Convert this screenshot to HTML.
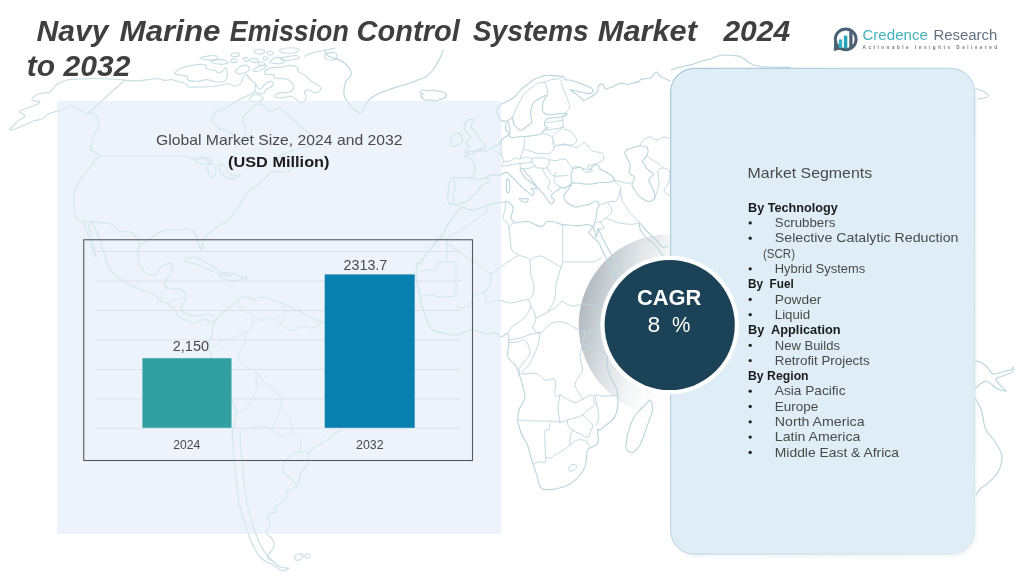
<!DOCTYPE html>
<html lang="en">
<head>
<meta charset="utf-8">
<title>Navy Marine Emission Control Systems Market 2024 to 2032</title>
<style>
html,body{margin:0;padding:0;background:#fff;}
body{width:1024px;height:576px;overflow:hidden;position:relative;font-family:"Liberation Sans",sans-serif;}
svg{position:absolute;left:0;top:0;display:block;}
text{font-family:"Liberation Sans",sans-serif;}
.ttl{font-weight:bold;font-style:italic;font-size:29px;fill:#3f3f3f;}
.reg{fill:#4a4a4a;}
.bold{font-weight:bold;fill:#1c1c1c;}
</style>
</head>
<body>
<svg width="1024" height="576" viewBox="0 0 1024 576">
<defs>
  <linearGradient id="ringg" gradientUnits="userSpaceOnUse" x1="579" y1="314" x2="668" y2="338">
    <stop offset="0" stop-color="#b2bac0"/>
    <stop offset="0.24" stop-color="#cbd2d6"/>
    <stop offset="0.47" stop-color="#e1e5e8"/>
    <stop offset="0.7" stop-color="#f1f3f4"/>
    <stop offset="0.92" stop-color="#fdfdfd"/>
  </linearGradient>
  <filter id="sh" x="-10%" y="-10%" width="120%" height="120%">
    <feGaussianBlur stdDeviation="2"/>
  </filter>
  <linearGradient id="pbord" x1="0" y1="0" x2="1" y2="1">
    <stop offset="0" stop-color="#a9c8d8"/>
    <stop offset="0.5" stop-color="#c4dae6"/>
    <stop offset="1" stop-color="#dde9ef"/>
  </linearGradient>
</defs>

<!-- grey ring behind right panel -->
<circle cx="669.7" cy="325" r="91" fill="url(#ringg)"/>
<!-- MAP-BACK -->
<g id="map" fill="none" stroke-linejoin="round" stroke-linecap="round">
<path stroke="#c8dee4" stroke-width="1.15" d="M125.0 80.0C122.2 79.8 115.5 79.3 110.0 79.0C104.5 78.7 100.1 78.5 95.0 78.5C89.9 78.5 87.1 78.7 82.0 79.0C76.9 79.3 71.8 78.9 67.0 80.0C62.2 81.1 59.1 82.8 56.0 85.0C52.9 87.2 52.4 90.5 50.0 92.0C47.6 93.5 45.6 92.5 43.0 93.0C40.4 93.5 38.0 93.7 36.0 95.0C34.0 96.3 31.3 98.7 32.0 100.0C32.7 101.3 39.8 100.9 40.0 102.0C40.2 103.1 36.7 104.3 33.0 106.0C29.3 107.7 21.5 109.2 20.0 111.0C18.5 112.8 25.2 114.3 25.0 116.0C24.8 117.7 21.8 117.4 19.0 120.0C16.2 122.6 8.9 129.1 10.0 130.0C11.1 130.9 20.8 126.7 25.0 125.0C29.2 123.3 29.9 122.1 33.0 121.0C36.1 119.9 39.2 120.3 42.0 119.0C44.8 117.7 45.8 115.3 48.0 114.0C50.2 112.7 51.4 112.7 54.0 112.0C56.6 111.3 59.1 111.1 62.0 110.0C64.9 108.9 67.6 106.5 70.0 106.0C72.4 105.5 72.8 106.1 75.0 107.0C77.2 107.9 79.8 109.7 82.0 111.0C84.2 112.3 85.2 113.6 87.0 114.0C88.8 114.4 90.3 112.8 92.0 113.0C93.7 113.2 94.9 113.5 96.0 115.0C97.1 116.5 97.5 118.8 98.0 121.0C98.5 123.2 99.4 125.2 99.0 127.0C98.6 128.8 96.9 129.5 96.0 131.0C95.1 132.5 94.7 133.0 94.0 135.0C93.3 137.0 92.5 139.2 92.0 142.0C91.5 144.8 90.5 148.2 91.0 150.0C91.5 151.8 93.5 150.9 95.0 152.0C96.5 153.1 99.0 154.5 99.0 156.0C99.0 157.5 96.3 158.3 95.0 160.0C93.7 161.7 93.7 162.8 92.0 165.0C90.3 167.2 88.2 169.2 86.0 172.0C83.8 174.8 81.8 177.1 80.0 180.0C78.2 182.9 77.1 185.2 76.0 188.0C74.9 190.8 74.4 191.9 74.0 195.0C73.6 198.1 73.8 201.5 74.0 205.0C74.2 208.5 74.3 211.2 75.0 214.0C75.7 216.8 76.7 218.7 78.0 220.0C79.3 221.3 80.9 220.3 82.0 221.0C83.1 221.7 82.9 221.4 84.0 224.0C85.1 226.6 86.5 230.6 88.0 235.0C89.5 239.4 90.5 244.0 92.0 248.0C93.5 252.0 95.6 257.0 96.0 257.0C96.4 257.0 94.9 252.0 94.0 248.0C93.1 244.0 91.9 239.0 91.0 235.0C90.1 231.0 88.8 228.2 89.0 226.0C89.2 223.8 90.9 222.6 92.0 223.0C93.1 223.4 93.5 224.9 95.0 228.0C96.5 231.1 98.0 234.1 100.0 240.0C102.0 245.9 103.8 254.1 106.0 260.0C108.2 265.9 108.5 268.0 112.0 272.0C115.5 276.0 119.5 278.7 125.0 282.0C130.5 285.3 136.5 287.6 142.0 290.0C147.5 292.4 151.7 293.0 155.0 295.0C158.3 297.0 157.8 299.5 160.0 301.0C162.2 302.5 164.2 301.4 167.0 303.0C169.8 304.6 173.0 307.6 175.0 310.0C177.0 312.4 176.0 314.2 178.0 316.0C180.0 317.8 182.9 318.7 186.0 320.0C189.1 321.3 191.7 323.2 195.0 323.0C198.3 322.8 200.9 319.2 204.0 319.0C207.1 318.8 209.6 322.2 212.0 322.0C214.4 321.8 216.1 318.7 217.0 318.0 M125.0 80.0 L87.0 114.0 M99.0 156.0C99.0 156.0 187.0 156.0 187.0 156.0C187.0 156.0 195.0 160.0 195.0 160.0C195.0 160.0 203.0 158.0 203.0 158.0C203.0 158.0 212.0 162.0 212.0 162.0 M82.0 221.0C87.1 221.6 103.0 222.2 110.0 224.0C117.0 225.8 116.0 229.3 120.0 231.0C124.0 232.7 128.3 230.4 132.0 233.0C135.7 235.6 138.5 242.8 140.0 245.0 M125.0 80.1C127.3 80.2 133.4 81.0 137.6 80.9C141.8 80.8 144.4 80.0 148.1 79.6C151.8 79.2 154.9 78.6 158.0 78.7C161.1 78.8 162.5 80.2 165.0 80.4C167.5 80.6 168.8 79.3 171.6 79.6C174.3 79.9 177.2 81.3 180.0 82.1C182.8 82.9 185.1 82.8 186.6 83.7C188.1 84.6 186.2 86.4 188.3 87.0C190.4 87.6 193.3 87.1 198.2 87.0C203.1 86.9 209.3 86.8 214.8 86.2C220.3 85.6 224.4 83.7 228.1 83.7C231.8 83.7 232.5 86.2 234.8 86.2C237.1 86.2 239.1 85.2 240.6 83.7C242.1 82.2 242.0 79.6 243.1 77.9C244.2 76.2 244.9 74.1 246.4 74.6C247.9 75.1 249.7 78.7 251.4 80.4C253.1 82.1 254.9 82.3 255.5 83.7C256.1 85.1 254.8 86.4 254.7 87.9C254.6 89.4 256.8 90.2 254.7 92.0C252.6 93.8 247.4 95.5 243.1 97.8C238.8 100.1 235.7 102.1 231.4 104.5C227.1 106.9 222.4 110.1 219.8 111.1C217.2 112.1 218.4 108.4 217.0 110.0C215.6 111.6 211.8 116.7 212.0 120.0C212.2 123.3 215.6 126.2 218.0 128.0C220.4 129.8 222.4 128.9 225.0 130.0C227.6 131.1 229.6 131.8 232.0 134.0C234.4 136.2 236.0 141.3 238.0 142.0C240.0 142.7 241.5 140.6 243.0 138.0C244.5 135.4 246.0 131.7 246.0 128.0C246.0 124.3 242.3 121.3 243.0 118.0C243.7 114.7 247.2 112.6 250.0 110.0C252.8 107.4 255.2 104.7 258.0 104.0C260.8 103.3 262.8 104.5 265.0 106.0C267.2 107.5 267.6 111.6 270.0 112.0C272.4 112.4 275.2 108.0 278.0 108.0C280.8 108.0 282.4 110.2 285.0 112.0C287.6 113.8 289.2 115.4 292.0 118.0C294.8 120.6 296.7 123.1 300.0 126.0C303.3 128.9 306.7 131.1 310.0 134.0C313.3 136.9 317.6 139.8 318.0 142.0C318.4 144.2 315.3 144.9 312.0 146.0C308.7 147.1 304.4 146.9 300.0 148.0C295.6 149.1 292.6 150.2 288.0 152.0C283.4 153.8 274.6 157.3 275.0 158.0C275.4 158.7 285.4 156.0 290.0 156.0C294.6 156.0 296.7 156.5 300.0 158.0C303.3 159.5 308.4 162.5 308.0 164.0C307.6 165.5 301.3 164.9 298.0 166.0C294.7 167.1 292.9 168.9 290.0 170.0C287.1 171.1 285.3 171.6 282.0 172.0C278.7 172.4 274.9 170.9 272.0 172.0C269.1 173.1 267.8 176.5 266.0 178.0C264.2 179.5 263.5 178.7 262.0 180.0C260.5 181.3 260.2 183.2 258.0 185.0C255.8 186.8 252.4 188.0 250.0 190.0C247.6 192.0 246.8 193.2 245.0 196.0C243.2 198.8 241.8 202.1 240.0 205.0C238.2 207.9 237.2 209.2 235.0 212.0C232.8 214.8 231.3 217.2 228.0 220.0C224.7 222.8 220.8 224.2 217.0 227.0C213.2 229.8 209.6 232.1 207.0 235.0C204.4 237.9 203.9 240.2 203.0 243.0C202.1 245.8 202.7 249.6 202.0 250.0C201.3 250.4 200.1 247.8 199.0 245.0C197.9 242.2 197.3 237.8 196.0 235.0C194.7 232.2 194.0 231.1 192.0 230.0C190.0 228.9 188.1 229.0 185.0 229.0C181.9 229.0 178.1 229.8 175.0 230.0C171.9 230.2 170.8 229.6 168.0 230.0C165.2 230.4 162.9 230.7 160.0 232.0C157.1 233.3 154.8 235.2 152.0 237.0C149.2 238.8 147.2 240.5 145.0 242.0C142.8 243.5 141.3 242.6 140.0 245.0C138.7 247.4 138.0 251.3 138.0 255.0C138.0 258.7 138.7 261.9 140.0 265.0C141.3 268.1 142.2 270.2 145.0 272.0C147.8 273.8 151.9 276.1 155.0 275.0C158.1 273.9 158.9 268.0 162.0 266.0C165.1 264.0 170.5 262.5 172.0 264.0C173.5 265.5 171.3 270.7 170.0 274.0C168.7 277.3 165.4 279.4 165.0 282.0C164.6 284.6 164.9 286.5 168.0 288.0C171.1 289.5 178.7 288.2 182.0 290.0C185.3 291.8 186.2 294.7 186.0 298.0C185.8 301.3 181.0 305.1 181.0 308.0C181.0 310.9 183.2 312.5 186.0 314.0C188.8 315.5 192.3 316.0 196.0 316.0C199.7 316.0 202.7 314.0 206.0 314.0C209.3 314.0 212.5 315.6 214.0 316.0 M175.0 72.9C175.6 71.8 177.0 70.2 180.0 68.8C183.0 67.4 187.0 66.2 191.6 65.4C196.2 64.6 202.2 64.0 204.9 64.6C207.6 65.2 204.7 67.7 206.5 68.8C208.3 69.9 212.7 69.6 214.8 70.4C216.9 71.2 216.8 72.7 218.2 72.9C219.6 73.1 220.9 72.2 222.3 71.3C223.7 70.4 224.7 67.6 225.6 67.9C226.5 68.2 227.1 70.9 227.3 72.9C227.5 74.9 227.6 77.0 226.5 78.7C225.4 80.4 223.9 81.6 221.5 82.1C219.1 82.6 215.9 81.7 213.2 81.2C210.4 80.7 209.2 79.6 206.5 79.6C203.8 79.6 201.5 81.1 198.2 81.2C194.9 81.3 190.4 81.3 188.3 80.4C186.2 79.5 188.7 77.3 186.6 76.2C184.5 75.1 178.7 75.2 176.6 74.6C174.5 74.0 174.4 74.0 175.0 72.9 M199.9 58.0C199.9 57.4 204.1 56.8 206.5 56.3C208.9 55.8 211.1 55.4 213.2 55.5C215.3 55.6 217.9 56.3 218.2 57.1C218.5 57.9 216.9 59.1 214.8 59.6C212.7 60.1 209.2 59.9 206.5 59.6C203.8 59.3 199.9 58.6 199.9 58.0 M211.5 61.3C212.6 60.6 216.8 59.5 219.8 59.6C222.8 59.7 227.5 61.2 228.1 62.1C228.7 63.0 225.7 64.1 223.1 64.3C220.5 64.5 216.1 63.8 214.0 63.3C211.9 62.8 210.4 62.0 211.5 61.3 M236.4 69.6C237.6 68.2 240.8 65.9 243.1 65.4C245.4 64.9 248.0 66.0 248.9 67.1C249.8 68.2 249.5 70.1 248.1 71.3C246.7 72.5 243.5 73.4 241.4 73.7C239.3 74.0 237.3 73.7 236.4 72.9C235.5 72.1 235.2 71.0 236.4 69.6 M253.0 70.4C253.3 69.5 257.3 67.2 259.7 66.3C262.1 65.4 265.4 65.1 266.3 65.4C267.2 65.7 266.2 66.8 264.7 67.9C263.2 69.0 260.1 70.8 258.0 71.3C255.9 71.8 252.7 71.3 253.0 70.4 M246.4 74.6C247.3 75.7 249.7 78.7 251.4 80.4C253.1 82.1 254.0 82.0 255.5 83.7C257.0 85.4 258.0 89.4 259.7 89.5C261.4 89.6 262.6 86.0 264.7 84.5C266.8 83.0 269.8 81.0 271.3 81.2C272.8 81.4 273.9 83.9 273.0 85.4C272.1 86.9 268.1 88.0 266.3 89.5C264.5 91.0 265.1 93.2 263.0 93.7C260.9 94.2 256.2 92.3 254.7 92.0 M264.7 71.3C265.6 70.1 268.3 68.7 271.3 67.9C274.3 67.1 277.7 67.6 281.3 67.1C284.9 66.6 288.2 65.3 291.2 65.4C294.2 65.5 296.7 66.8 297.9 67.9C299.1 69.0 296.4 69.8 297.9 71.3C299.4 72.8 303.8 74.4 306.2 76.2C308.6 78.0 308.8 79.4 311.2 81.2C313.6 83.0 317.8 84.5 319.5 86.2C321.2 87.9 321.2 89.2 320.3 90.4C319.4 91.6 316.5 93.0 314.5 92.9C312.5 92.8 311.3 90.1 309.5 89.9C307.7 89.7 305.1 90.6 304.5 92.0C303.9 93.4 306.8 95.8 306.2 97.8C305.6 99.8 303.0 102.5 301.2 102.8C299.4 103.1 298.0 100.7 296.2 99.5C294.4 98.3 293.9 96.5 291.2 96.2C288.5 95.9 284.3 97.8 281.3 97.8C278.3 97.8 274.9 97.1 274.6 96.2C274.3 95.3 276.9 93.7 279.6 92.9C282.4 92.1 287.0 93.2 289.6 92.0C292.2 90.8 294.0 88.5 293.7 86.2C293.4 83.9 290.2 81.0 287.9 79.6C285.6 78.2 283.7 79.0 281.3 78.7C278.9 78.4 276.1 78.7 274.6 77.9C273.1 77.1 274.5 75.2 273.0 74.6C271.5 74.0 267.8 75.2 266.3 74.6C264.8 74.0 263.8 72.5 264.7 71.3 M195.0 160.0C195.6 158.9 199.9 157.0 203.0 157.0C206.1 157.0 211.1 158.7 212.0 160.0C212.9 161.3 210.2 163.4 208.0 164.0C205.8 164.6 202.4 163.7 200.0 163.0C197.6 162.3 194.4 161.1 195.0 160.0 M208.0 166.0C208.7 164.2 211.5 163.3 213.0 164.0C214.5 164.7 216.0 167.4 216.0 170.0C216.0 172.6 214.3 177.3 213.0 178.0C211.7 178.7 209.9 176.2 209.0 174.0C208.1 171.8 207.3 167.8 208.0 166.0 M218.0 165.0C218.2 163.2 223.2 164.7 225.0 166.0C226.8 167.3 226.5 170.2 228.0 172.0C229.5 173.8 230.6 175.6 233.0 176.0C235.4 176.4 241.0 173.4 241.0 174.0C241.0 174.6 236.1 178.6 233.0 179.0C229.9 179.4 226.8 178.6 224.0 176.0C221.2 173.4 217.8 166.8 218.0 165.0 M184.0 261.0C184.0 259.8 190.2 256.8 195.0 257.5C199.8 258.2 205.1 262.2 210.0 265.0C214.9 267.8 218.0 270.5 222.0 272.5C226.0 274.5 232.0 275.5 232.0 276.0C232.0 276.5 226.0 276.1 222.0 275.0C218.0 273.9 214.9 272.0 210.0 270.0C205.1 268.0 199.8 265.6 195.0 264.0C190.2 262.4 184.0 262.2 184.0 261.0 M220.0 274.0C221.8 273.3 226.3 272.4 230.0 273.0C233.7 273.6 238.5 275.7 240.0 277.0C241.5 278.3 240.2 279.4 238.0 280.0C235.8 280.6 231.3 280.6 228.0 280.0C224.7 279.4 221.5 278.1 220.0 277.0C218.5 275.9 218.2 274.7 220.0 274.0 M242.0 277.0C242.7 276.6 245.3 276.6 246.0 277.0C246.7 277.4 246.7 278.6 246.0 279.0C245.3 279.4 242.7 279.4 242.0 279.0C241.3 278.6 241.3 277.4 242.0 277.0 M231.4 53.8C232.5 53.2 236.7 52.6 238.1 53.0C239.5 53.4 240.0 55.4 238.9 56.0C237.8 56.6 233.7 56.7 232.3 56.3C230.9 55.9 230.3 54.4 231.4 53.8 M230.6 62.1C230.0 61.4 232.3 58.3 233.4 58.3C234.5 58.3 237.3 61.4 236.8 62.1C236.3 62.8 231.2 62.8 230.6 62.1 M243.1 58.8C243.2 58.1 245.4 57.5 246.4 57.6C247.4 57.7 248.5 58.9 248.4 59.6C248.3 60.3 247.1 61.7 246.1 61.6C245.1 61.5 243.0 59.5 243.1 58.8 M249.7 60.0C249.7 59.2 253.1 58.2 254.7 58.3C256.3 58.4 258.4 59.5 258.4 60.3C258.4 61.1 256.3 62.7 254.7 62.6C253.1 62.5 249.7 60.8 249.7 60.0 M254.7 50.5C255.6 49.8 258.6 49.1 260.5 49.3C262.4 49.5 264.9 50.8 265.0 51.7C265.1 52.6 263.0 53.8 261.3 54.0C259.6 54.2 256.7 53.6 255.5 53.0C254.3 52.4 253.8 51.2 254.7 50.5 M267.2 52.2C267.6 51.5 270.2 51.0 271.3 51.3C272.4 51.6 273.7 52.9 273.3 53.6C272.9 54.3 270.4 55.3 269.3 55.0C268.2 54.7 266.8 52.9 267.2 52.2 M263.0 57.6C263.4 57.1 265.7 56.7 266.7 57.0C267.7 57.3 268.7 58.5 268.3 59.0C267.9 59.5 265.3 60.3 264.3 60.0C263.3 59.7 262.6 58.1 263.0 57.6 M279.6 50.5C279.9 49.6 282.9 48.3 286.3 48.0C289.7 47.7 296.1 48.0 297.9 48.8C299.7 49.6 298.6 51.4 296.2 52.2C293.8 53.0 287.6 53.3 284.6 53.0C281.6 52.7 279.3 51.4 279.6 50.5 M269.7 62.1C269.4 60.9 275.3 57.2 278.0 57.1C280.7 57.0 284.3 60.1 284.6 61.3C284.9 62.5 282.3 63.7 279.6 63.8C276.9 63.9 270.0 63.3 269.7 62.1 M281.3 58.0C283.4 57.1 293.2 55.4 296.2 55.5C299.2 55.6 300.0 57.9 297.9 58.8C295.8 59.7 287.6 60.6 284.6 60.5C281.6 60.4 279.2 58.9 281.3 58.0 M258.0 63.0C258.2 62.3 260.9 61.8 262.2 62.0C263.5 62.2 265.2 63.2 265.0 63.9C264.8 64.6 262.6 65.8 261.3 65.6C260.0 65.4 257.8 63.7 258.0 63.0 M249.7 97.8C250.6 96.6 254.0 94.5 256.4 94.5C258.8 94.5 262.4 96.6 263.0 97.8C263.6 99.0 261.8 100.6 259.7 101.2C257.6 101.8 253.2 101.8 251.4 101.2C249.6 100.6 248.8 99.0 249.7 97.8 M304.5 56.3C305.7 55.8 308.8 54.1 311.2 53.3C313.6 52.5 315.4 52.2 317.8 51.7C320.2 51.2 321.3 51.0 324.5 50.3C327.7 49.6 333.2 48.4 335.1 48.0 M325.3 54.3C326.8 53.0 333.1 51.8 335.1 52.7C337.1 53.6 337.6 58.0 336.1 59.3C334.6 60.6 329.0 60.5 327.0 59.6C325.0 58.7 323.8 55.6 325.3 54.3 M217.0 318.0C217.9 317.1 219.6 315.0 222.0 313.0C224.4 311.0 227.1 309.4 230.0 307.0C232.9 304.6 235.1 301.8 238.0 300.0C240.9 298.2 243.2 297.0 246.0 297.0C248.8 297.0 250.1 300.0 253.0 300.0C255.9 300.0 258.5 297.0 262.0 297.0C265.5 297.0 268.1 298.9 272.0 300.0C275.9 301.1 279.3 301.5 283.0 303.0C286.7 304.5 288.5 306.2 292.0 308.0C295.5 309.8 298.3 311.2 302.0 313.0C305.7 314.8 308.3 316.4 312.0 318.0C315.7 319.6 318.5 320.2 322.0 322.0C325.5 323.8 328.4 325.6 331.0 328.0C333.6 330.4 333.4 332.8 336.0 335.0C338.6 337.2 341.3 338.2 345.0 340.0C348.7 341.8 352.1 343.0 356.0 345.0C359.9 347.0 362.7 348.6 366.0 351.0C369.3 353.4 372.0 355.2 374.0 358.0C376.0 360.8 377.0 362.7 377.0 366.0C377.0 369.3 375.5 372.3 374.0 376.0C372.5 379.7 370.6 382.1 369.0 386.0C367.4 389.9 366.3 393.0 365.0 397.0C363.7 401.0 363.5 404.3 362.0 408.0C360.5 411.7 359.2 414.1 357.0 417.0C354.8 419.9 352.6 422.0 350.0 424.0C347.4 426.0 345.3 426.5 343.0 428.0C340.7 429.5 339.9 430.2 337.5 432.0C335.1 433.8 333.2 435.7 330.0 438.0C326.8 440.3 323.9 441.9 320.0 444.5C316.1 447.1 311.3 448.4 309.0 452.0C306.7 455.6 308.6 460.7 307.5 464.0C306.4 467.3 304.4 468.1 303.0 470.0C301.6 471.9 301.0 471.6 300.0 474.5C299.0 477.4 299.8 483.0 297.5 486.0C295.2 489.0 289.8 488.5 287.5 491.0C285.2 493.5 287.3 496.6 285.0 499.5C282.7 502.4 276.6 504.7 275.0 507.0C273.4 509.3 277.4 510.4 276.0 512.0C274.6 513.6 268.6 513.7 267.5 516.0C266.4 518.3 270.3 521.6 270.0 524.5C269.7 527.4 265.5 529.2 266.0 532.0C266.5 534.8 271.0 536.8 272.5 539.5C274.0 542.2 274.9 543.8 274.0 547.0C273.1 550.2 267.5 554.2 267.5 557.0C267.5 559.8 271.7 560.2 274.0 562.0C276.3 563.8 277.2 565.8 280.0 567.0C282.8 568.2 287.4 568.1 289.0 568.3 M217.0 318.0C216.3 319.5 213.9 322.7 213.0 326.0C212.1 329.3 212.9 332.7 212.0 336.0C211.1 339.3 208.4 341.1 208.0 344.0C207.6 346.9 208.9 348.7 210.0 352.0C211.1 355.3 212.3 358.3 214.0 362.0C215.7 365.7 217.2 368.3 219.0 372.0C220.8 375.7 222.2 378.3 224.0 382.0C225.8 385.7 227.3 388.3 229.0 392.0C230.7 395.7 231.7 398.3 233.0 402.0C234.3 405.7 235.6 408.3 236.0 412.0C236.4 415.7 235.6 418.3 235.0 422.0C234.4 425.7 232.9 427.8 232.5 432.0C232.1 436.2 232.8 440.4 233.0 445.0C233.2 449.6 233.4 452.4 233.8 457.0C234.1 461.6 234.5 465.4 235.0 470.0C235.5 474.6 235.7 477.4 236.2 482.0C236.8 486.6 237.3 490.4 238.0 495.0C238.7 499.6 239.1 503.0 240.0 507.0C240.9 511.0 241.9 513.3 243.0 517.0C244.1 520.7 245.2 523.5 246.2 527.0C247.3 530.5 247.9 532.8 249.0 536.0C250.1 539.2 251.2 541.8 252.5 544.5C253.8 547.2 254.6 548.7 256.0 551.0C257.4 553.3 258.4 555.2 260.0 557.0C261.6 558.8 262.7 559.6 265.0 561.0C267.3 562.4 270.0 563.0 272.5 564.5C275.0 566.0 276.6 567.8 278.8 569.0C280.9 570.2 282.1 571.1 284.0 571.0C285.9 570.9 288.1 568.8 289.0 568.3 M240.0 432.0C240.2 435.3 240.4 443.0 241.0 450.0C241.6 457.0 242.3 462.7 243.0 470.0C243.7 477.3 244.1 483.2 245.0 490.0C245.9 496.8 246.7 501.1 248.0 507.0C249.3 512.9 250.3 516.5 252.0 522.0C253.7 527.5 255.2 532.2 257.0 537.0C258.8 541.8 260.0 544.5 262.0 548.0C264.0 551.5 265.8 553.4 268.0 556.0C270.2 558.6 272.9 560.9 274.0 562.0 M282.5 472.0C283.9 473.1 287.2 475.4 290.0 478.0C292.8 480.6 296.1 484.5 297.5 486.0 M282.5 472.0C282.8 470.2 282.3 465.1 284.0 462.0C285.7 458.9 289.1 456.8 292.0 455.0C294.9 453.2 296.9 452.6 300.0 452.0C303.1 451.4 307.4 452.0 309.0 452.0 M295.0 556.0C295.6 554.9 297.5 554.2 299.0 554.0C300.5 553.8 302.6 554.1 303.0 555.0C303.4 555.9 302.3 558.1 301.0 559.0C299.7 559.9 297.1 560.5 296.0 560.0C294.9 559.5 294.4 557.1 295.0 556.0 M305.0 555.0C305.6 554.3 308.1 553.6 309.0 554.0C309.9 554.4 310.6 556.3 310.0 557.0C309.4 557.7 306.9 558.4 306.0 558.0C305.1 557.6 304.4 555.7 305.0 555.0"/>
<path stroke="#d2e3e8" stroke-width="1" d="M238.0 300.0C238.9 301.8 240.4 307.1 243.0 310.0C245.6 312.9 250.3 313.1 252.0 316.0C253.7 318.9 253.1 323.1 252.0 326.0C250.9 328.9 247.1 330.9 246.0 332.0 M208.0 344.0C209.5 344.4 213.1 346.7 216.0 346.0C218.9 345.3 221.1 341.5 224.0 340.0C226.9 338.5 228.0 339.5 232.0 338.0C236.0 336.5 243.4 333.1 246.0 332.0 M246.0 332.0C245.6 334.4 245.5 340.2 244.0 345.0C242.5 349.8 237.6 354.1 238.0 358.0C238.4 361.9 242.7 363.4 246.0 366.0C249.3 368.6 253.1 369.4 256.0 372.0C258.9 374.6 259.1 377.1 262.0 380.0C264.9 382.9 268.7 385.1 272.0 388.0C275.3 390.9 278.2 392.3 280.0 396.0C281.8 399.7 280.2 404.0 282.0 408.0C283.8 412.0 288.2 414.0 290.0 418.0C291.8 422.0 290.2 426.0 292.0 430.0C293.8 434.0 298.5 436.0 300.0 440.0C301.5 444.0 300.0 449.8 300.0 452.0 M236.0 412.0C237.5 411.6 241.4 411.8 244.0 410.0C246.6 408.2 247.8 405.7 250.0 402.0C252.2 398.3 254.9 395.5 256.0 390.0C257.1 384.5 256.0 375.3 256.0 372.0 M240.0 432.0C241.8 431.3 246.0 429.1 250.0 428.0C254.0 426.9 258.0 425.6 262.0 426.0C266.0 426.4 268.3 428.2 272.0 430.0C275.7 431.8 278.3 436.0 282.0 436.0C285.7 436.0 290.2 431.1 292.0 430.0 M272.0 430.0C272.7 428.2 274.2 424.0 276.0 420.0C277.8 416.0 280.9 410.2 282.0 408.0 M283.0 303.0C283.6 305.0 286.2 310.1 286.0 314.0C285.8 317.9 280.9 321.1 282.0 324.0C283.1 326.9 288.3 329.6 292.0 330.0C295.7 330.4 298.3 326.4 302.0 326.0C305.7 325.6 308.3 328.7 312.0 328.0C315.7 327.3 320.2 323.1 322.0 322.0 M252.0 316.0C253.8 316.7 258.3 319.6 262.0 320.0C265.7 320.4 268.3 317.3 272.0 318.0C275.7 318.7 280.2 322.9 282.0 324.0 M160.0 301.0C160.6 299.4 161.5 294.4 163.0 292.0C164.5 289.6 167.1 288.7 168.0 288.0 M167.0 303.0C168.3 302.4 171.2 300.9 174.0 300.0C176.8 299.1 179.8 298.4 182.0 298.0C184.2 297.6 185.3 298.0 186.0 298.0"/>
<path stroke="#bad6dd" stroke-width="1.15" d="M325.0 50.0C325.6 51.1 324.8 53.9 328.0 56.0C331.2 58.1 338.4 58.5 342.7 61.7C347.0 64.9 351.0 69.7 351.5 73.4C352.0 77.1 347.0 78.2 345.6 82.0C344.2 85.8 343.7 90.5 344.0 94.0C344.3 97.5 345.6 98.6 347.0 101.0C348.4 103.4 349.1 104.8 351.5 107.0C353.9 109.2 357.7 113.0 360.0 113.0C362.3 113.0 362.4 109.4 364.0 107.0C365.6 104.6 366.5 102.2 369.0 99.8C371.5 97.4 374.3 95.8 377.8 94.0C381.3 92.2 384.3 91.4 388.0 90.0C391.7 88.6 394.5 87.7 398.0 86.6C401.5 85.5 404.2 84.8 407.0 84.0C409.8 83.2 410.6 82.9 413.0 82.0C415.4 81.1 417.4 80.1 420.0 79.0C422.6 77.9 424.2 78.2 427.0 76.0C429.8 73.8 432.6 70.3 435.0 67.0C437.4 63.7 438.5 61.1 440.0 58.0C441.5 54.9 442.4 51.5 443.0 50.0 M420.0 92.5C420.0 91.8 421.6 90.3 423.0 90.0C424.4 89.7 425.9 91.0 427.5 91.0C429.1 91.0 430.2 90.0 432.0 90.0C433.8 90.0 435.7 90.7 437.5 91.0C439.3 91.3 440.4 91.0 442.0 91.5C443.6 92.0 445.4 92.9 446.0 94.0C446.6 95.1 446.1 96.5 445.0 97.5C443.9 98.5 441.8 98.9 440.0 99.5C438.2 100.1 436.8 100.9 435.0 101.0C433.2 101.1 431.8 100.2 430.0 100.0C428.2 99.8 426.6 100.7 425.0 100.0C423.4 99.3 421.4 97.1 421.0 96.0C420.6 94.9 423.2 94.6 423.0 94.0C422.8 93.4 420.0 93.2 420.0 92.5 M512.7 117.0C511.7 117.7 509.1 120.5 507.0 121.0C504.9 121.5 502.8 121.7 501.0 120.0C499.2 118.3 497.3 114.3 497.0 111.6C496.7 108.9 498.1 106.9 499.4 105.3C500.7 103.7 502.3 103.9 504.0 103.0C505.7 102.1 507.1 101.5 508.8 100.6C510.4 99.7 511.6 99.0 513.0 98.0C514.4 97.0 515.5 96.1 516.6 95.0C517.7 93.9 518.2 93.0 519.0 92.0C519.8 91.0 520.1 90.6 521.0 89.7C521.9 88.8 522.8 88.0 524.0 87.0C525.2 86.0 526.2 85.2 527.5 84.2C528.8 83.2 529.6 82.5 531.0 81.5C532.4 80.5 533.6 79.6 535.3 78.8C536.9 77.9 538.3 77.6 540.0 77.0C541.7 76.4 543.1 75.9 544.7 75.6C546.4 75.3 547.3 75.2 549.0 75.2C550.7 75.2 552.2 75.5 554.0 75.6C555.8 75.7 557.3 75.9 559.0 76.0C560.7 76.1 562.3 75.8 563.4 76.4C564.5 77.0 563.6 78.8 565.0 79.5C566.4 80.2 569.0 79.9 571.0 80.3C573.0 80.7 574.2 81.2 576.0 81.8C577.8 82.4 579.0 82.8 580.6 83.4C582.2 84.0 583.3 84.6 585.0 85.3C586.7 86.0 588.5 86.3 590.0 87.3C591.5 88.3 593.0 89.3 593.0 90.5C593.0 91.7 591.7 93.2 590.0 93.6C588.3 94.0 585.8 93.2 583.8 92.8C581.7 92.4 580.7 92.0 579.0 91.6C577.3 91.2 576.0 90.8 574.4 90.5C572.8 90.2 570.8 89.4 570.5 89.7C570.2 90.0 571.9 91.1 573.0 92.0C574.1 92.9 575.6 93.6 576.7 94.4C577.8 95.2 578.1 95.8 579.0 96.5C579.9 97.2 580.5 97.5 581.4 98.3C582.3 99.1 582.7 100.5 583.8 100.6C584.8 100.7 585.9 99.6 587.0 99.0C588.1 98.4 588.7 98.2 590.0 97.5C591.3 96.8 592.6 96.1 594.0 95.0C595.4 93.9 597.0 92.9 597.8 91.2C598.6 89.6 597.7 87.1 598.6 85.8C599.5 84.5 601.2 83.6 602.5 84.2C603.8 84.8 604.4 88.3 605.6 89.0C606.8 89.7 607.6 88.4 609.0 88.0C610.4 87.6 611.4 87.4 613.4 86.6C615.4 85.8 617.1 83.8 619.7 83.4C622.3 83.0 625.1 84.3 627.5 84.2C629.9 84.1 631.0 83.4 633.0 83.0C635.0 82.6 637.0 82.5 638.4 81.9C639.8 81.3 639.4 80.1 640.8 79.5C642.2 78.9 644.1 78.9 646.0 78.5C647.9 78.1 649.5 78.3 651.0 77.5C652.5 76.7 652.9 75.0 654.0 74.0C655.1 73.0 656.1 71.8 657.0 72.0C657.9 72.2 658.0 74.0 659.0 75.0C660.0 76.0 661.2 76.8 662.5 77.5C663.8 78.2 664.6 78.4 666.0 79.0C667.4 79.6 669.3 80.6 670.0 81.0 M512.7 117.0C512.8 118.0 512.9 120.8 513.4 122.5C513.9 124.2 514.7 124.9 515.5 126.0C516.3 127.1 516.9 128.0 518.0 128.8C519.1 129.5 519.8 130.6 521.2 130.3C522.7 130.0 524.1 128.4 526.0 127.0C527.9 125.6 530.5 124.3 531.4 122.5C532.3 120.7 531.1 119.0 531.0 117.0C530.9 115.0 530.4 113.5 530.6 111.6C530.8 109.7 531.4 108.2 532.0 106.5C532.6 104.8 532.7 103.5 533.8 102.2C534.8 100.9 536.1 100.4 537.5 99.5C538.9 98.6 539.9 98.3 541.6 97.5C543.3 96.7 546.6 94.6 547.0 95.2C547.4 95.8 544.8 98.5 543.9 100.6C543.0 102.7 542.3 104.6 542.3 106.9C542.3 109.2 542.6 111.6 543.9 113.0C545.2 114.4 547.0 114.5 549.4 114.7C551.8 114.9 554.7 114.1 557.0 113.9C559.3 113.7 560.1 113.5 562.0 113.5C563.9 113.5 567.3 113.3 567.3 113.9C567.3 114.5 564.6 116.3 561.9 117.0C559.2 117.7 555.4 117.4 552.5 117.8C549.6 118.2 547.7 118.0 546.2 119.4C544.8 120.8 544.4 124.1 544.7 125.6C545.0 127.1 547.8 126.9 548.0 127.5C548.2 128.1 546.8 128.5 546.0 129.0C545.2 129.5 544.7 129.5 543.9 130.3C543.1 131.1 542.9 132.5 541.6 133.4C540.3 134.3 538.8 134.6 536.9 135.0C535.0 135.4 533.0 135.5 531.0 135.8C529.0 136.1 528.0 136.4 526.0 136.5C524.0 136.6 522.0 136.3 520.0 136.5C518.0 136.7 516.8 137.4 515.0 137.5C513.2 137.6 511.1 137.8 510.0 137.0C508.9 136.2 509.6 134.9 508.8 133.4C507.9 131.9 505.9 130.7 505.6 128.8C505.3 126.8 506.4 123.4 507.0 122.5C507.6 121.6 508.4 122.6 509.0 124.0C509.6 125.4 509.9 128.0 510.0 130.0C510.1 132.0 510.3 133.8 509.5 135.0C508.7 136.2 507.0 135.6 505.6 136.5C504.2 137.4 502.4 139.1 501.7 139.7 M501.7 139.7C501.2 140.5 500.2 142.8 499.0 144.0C497.8 145.2 496.2 145.4 495.0 146.0C493.8 146.6 493.8 146.8 492.5 147.5C491.2 148.2 489.4 149.4 488.0 150.0C486.6 150.6 486.3 150.9 485.0 151.0C483.7 151.1 482.4 150.5 481.0 150.5C479.6 150.5 478.8 150.5 477.5 151.0C476.2 151.5 474.9 152.4 474.0 153.0C473.1 153.6 473.6 153.6 472.5 154.0C471.4 154.4 469.4 154.6 468.0 155.0C466.6 155.4 464.8 155.4 465.0 156.0C465.2 156.6 467.6 157.3 469.0 158.0C470.4 158.7 471.6 158.9 472.5 160.0C473.4 161.1 473.5 162.6 474.0 164.0C474.5 165.4 475.0 165.5 475.0 167.5C475.0 169.5 474.9 173.2 474.0 175.0C473.1 176.8 471.2 177.0 470.0 177.5C468.8 178.0 469.3 177.4 467.5 177.5C465.7 177.6 462.8 178.0 460.0 178.0C457.2 178.0 454.3 176.9 452.5 177.5C450.7 178.1 450.6 179.6 450.0 181.0C449.4 182.4 449.4 182.8 449.0 185.0C448.6 187.2 448.2 189.9 448.0 193.0C447.8 196.1 447.3 199.7 448.0 201.7C448.7 203.7 450.3 203.4 452.0 204.0C453.7 204.6 455.7 205.0 457.5 204.8C459.3 204.6 460.3 203.7 462.0 203.0C463.7 202.3 464.8 202.5 467.0 201.0C469.2 199.5 472.0 196.8 474.0 195.0C476.0 193.2 476.7 192.7 478.0 191.0C479.3 189.3 479.0 187.8 481.0 186.0C483.0 184.2 488.1 182.6 489.0 181.0C489.9 179.4 485.8 178.5 486.0 177.5C486.2 176.5 488.4 176.0 490.0 175.5C491.6 175.0 493.4 175.1 495.0 175.0C496.6 174.9 497.6 175.2 499.0 175.0C500.4 174.8 501.4 174.5 502.5 174.0C503.6 173.5 504.0 172.7 505.0 172.5C506.0 172.3 507.1 172.5 508.0 173.0C508.9 173.5 508.9 173.9 510.0 175.0C511.1 176.1 512.6 177.6 514.0 179.0C515.4 180.4 516.2 181.2 517.5 182.5C518.8 183.8 519.6 184.6 521.0 186.0C522.4 187.4 523.5 188.7 525.0 190.0C526.5 191.3 527.6 192.0 529.0 193.0C530.4 194.0 531.6 195.6 532.5 195.4C533.4 195.2 534.3 193.4 534.0 192.0C533.7 190.6 530.5 188.6 531.0 188.0C531.5 187.4 536.3 189.7 536.7 189.0C537.1 188.3 534.6 185.7 533.0 184.0C531.4 182.3 529.5 181.1 528.0 180.0C526.5 178.9 526.1 179.3 525.0 178.0C523.9 176.7 522.9 174.5 522.0 173.0C521.1 171.5 519.9 170.8 520.0 170.0C520.1 169.2 521.4 167.9 522.5 168.5C523.6 169.1 524.6 171.3 526.0 173.0C527.4 174.7 528.4 175.5 530.0 177.5C531.6 179.5 533.2 181.7 535.0 184.0C536.8 186.3 538.4 188.0 540.0 190.0C541.6 192.0 542.6 193.2 544.0 195.0C545.4 196.8 546.4 198.5 547.5 200.0C548.6 201.5 549.2 202.3 550.0 203.0C550.8 203.7 551.3 204.3 552.0 203.8C552.7 203.2 554.2 201.4 554.0 200.0C553.8 198.6 550.8 197.5 551.0 196.0C551.2 194.5 553.7 193.1 555.0 192.0C556.3 190.9 557.1 190.7 558.0 190.0C558.9 189.3 558.9 188.4 560.0 188.0C561.1 187.6 562.5 188.2 563.8 188.0C565.0 187.8 565.9 187.6 567.0 187.0C568.1 186.4 569.1 185.7 570.0 185.0C570.9 184.3 572.4 182.1 572.0 183.0C571.6 183.9 569.5 187.7 568.0 190.0C566.5 192.3 564.4 193.3 564.0 195.4C563.6 197.5 564.7 199.9 566.0 201.7C567.3 203.5 569.2 204.0 571.0 205.0C572.8 206.0 574.0 206.9 576.0 207.0C578.0 207.1 580.0 205.9 582.0 205.5C584.0 205.1 584.9 205.5 586.7 205.0C588.5 204.5 590.3 203.7 592.0 203.0C593.7 202.3 594.7 200.6 596.0 201.0C597.3 201.4 598.8 203.3 599.0 205.0C599.2 206.7 597.5 207.6 597.0 210.0C596.5 212.4 596.5 215.6 596.0 218.0C595.5 220.4 595.0 221.4 594.5 223.0C594.0 224.6 593.8 226.3 593.0 226.7C592.2 227.1 591.2 225.4 590.0 225.0C588.8 224.6 588.4 224.5 586.7 224.6C585.1 224.7 583.0 225.3 581.0 225.5C579.0 225.7 578.4 225.7 576.0 225.6C573.6 225.5 570.6 225.2 568.0 225.0C565.4 224.8 564.1 225.2 561.7 224.6C559.3 224.0 557.7 222.6 555.0 222.0C552.3 221.4 549.0 220.9 547.0 221.5C545.0 222.1 545.1 224.0 544.0 225.0C542.9 226.0 542.8 226.9 541.0 226.7C539.2 226.5 536.4 225.0 534.0 224.0C531.6 223.0 530.4 221.9 528.0 221.5C525.6 221.1 523.4 221.8 521.0 222.0C518.6 222.2 516.6 223.2 514.8 222.5C513.0 221.8 511.6 219.6 511.0 218.0C510.4 216.4 511.3 215.7 511.7 214.0C512.1 212.3 513.0 210.7 513.0 209.0C513.0 207.3 512.6 206.1 511.7 204.8C510.8 203.5 509.2 202.6 508.0 202.0C506.8 201.4 507.4 201.5 505.4 201.7C503.4 201.9 500.0 202.4 497.0 203.0C494.0 203.6 491.9 204.1 489.0 205.0C486.1 205.9 483.8 207.1 481.0 208.0C478.2 208.9 476.6 209.8 474.0 210.0C471.4 210.2 469.3 209.6 467.0 209.0C464.7 208.4 463.7 206.3 461.7 207.0C459.7 207.7 458.0 210.6 456.0 213.0C454.0 215.4 452.8 217.2 451.0 220.0C449.2 222.8 447.8 224.9 446.0 228.0C444.2 231.1 443.4 233.7 441.0 237.0C438.6 240.3 435.8 242.9 433.0 246.0C430.2 249.1 428.4 250.7 426.0 254.0C423.6 257.3 421.6 262.4 420.0 264.0C418.4 265.6 418.2 260.5 417.5 262.5C416.8 264.5 416.1 271.2 416.0 275.0C415.9 278.8 416.4 280.2 417.0 283.0C417.6 285.8 418.3 286.4 419.0 290.0C419.7 293.6 420.3 299.0 421.0 302.5C421.7 306.0 422.3 306.7 423.0 309.0C423.7 311.3 424.1 312.4 425.0 315.0C425.9 317.6 426.6 320.2 428.0 323.0C429.4 325.8 430.7 328.4 432.5 330.0C434.3 331.6 435.7 331.4 438.0 332.0C440.3 332.6 442.4 332.4 445.0 333.0C447.6 333.6 449.2 334.8 452.0 335.0C454.8 335.2 456.7 334.9 460.0 334.0C463.3 333.1 466.7 330.6 470.0 330.0C473.3 329.4 475.1 330.3 478.0 331.0C480.9 331.7 482.9 333.6 486.0 334.0C489.1 334.4 492.2 332.4 495.0 333.0C497.8 333.6 498.7 336.9 501.0 337.0C503.3 337.1 506.0 332.5 507.5 333.5C509.0 334.5 509.0 338.6 509.0 342.5C509.0 346.4 507.1 351.6 507.5 355.0C507.9 358.4 509.4 359.0 511.0 361.0C512.6 363.0 514.5 363.6 516.0 366.0C517.5 368.4 517.8 370.5 519.0 374.0C520.2 377.5 521.4 380.7 522.5 385.0C523.6 389.3 525.1 394.0 525.0 397.5C524.9 401.0 523.1 401.7 522.0 404.0C520.9 406.3 519.8 407.1 519.0 410.0C518.2 412.9 517.5 417.1 517.5 420.0C517.5 422.9 518.4 423.7 519.0 426.0C519.6 428.3 520.1 430.1 521.0 432.5C521.9 434.9 522.8 436.7 524.0 439.0C525.2 441.3 526.4 442.2 527.5 445.0C528.6 447.8 529.1 450.8 530.0 454.0C530.9 457.2 531.6 459.6 532.5 462.5C533.4 465.4 534.1 467.2 535.0 470.0C535.9 472.8 536.8 474.9 537.5 477.5C538.2 480.1 538.1 481.9 539.0 484.0C539.9 486.1 540.7 488.0 542.5 489.0C544.3 490.0 546.7 489.5 549.0 489.5C551.3 489.5 552.4 489.5 555.0 489.0C557.6 488.5 560.2 487.9 563.0 487.0C565.8 486.1 567.8 485.3 570.0 484.0C572.2 482.7 573.2 481.6 575.0 480.0C576.8 478.4 578.4 477.0 580.0 475.0C581.6 473.0 582.9 471.3 584.0 469.0C585.1 466.7 585.4 466.0 586.0 462.5C586.6 459.0 586.4 452.8 587.5 450.0C588.6 447.2 590.1 448.4 592.0 447.0C593.9 445.6 597.0 445.6 598.0 442.5C599.0 439.4 597.1 432.3 597.5 430.0C597.9 427.7 598.4 430.9 600.0 430.0C601.6 429.1 603.7 426.8 606.0 425.0C608.3 423.2 610.7 422.0 612.5 420.0C614.3 418.0 615.1 416.3 616.0 414.0C616.9 411.7 617.1 410.1 617.5 407.5C617.9 404.9 618.0 402.8 618.0 400.0C618.0 397.2 618.0 395.2 617.5 392.5C617.0 389.8 616.2 387.7 615.0 385.0C613.8 382.3 612.3 380.8 611.0 378.0C609.7 375.2 608.7 372.9 608.0 370.0C607.3 367.1 607.0 364.8 607.0 362.0C607.0 359.2 607.1 357.6 608.0 355.0C608.9 352.4 610.4 350.4 612.0 348.0C613.6 345.6 615.0 344.2 617.0 342.0C619.0 339.8 620.6 338.4 623.0 336.0C625.4 333.6 627.6 331.6 630.0 329.0C632.4 326.4 634.0 324.6 636.0 322.0C638.0 319.4 639.4 317.8 641.0 315.0C642.6 312.2 643.7 309.8 645.0 307.0C646.3 304.2 647.5 301.3 648.0 300.0 M572.5 170.0C573.4 168.5 574.6 168.5 576.0 168.0C577.4 167.5 578.4 167.3 580.0 167.5C581.6 167.7 583.2 168.5 585.0 169.0C586.8 169.5 588.5 170.6 590.0 170.0C591.5 169.4 591.5 166.9 593.0 166.0C594.5 165.1 596.7 164.4 598.0 165.0C599.3 165.6 598.5 167.7 600.0 169.0C601.5 170.3 603.8 170.7 606.0 172.0C608.2 173.3 610.4 174.5 612.0 176.0C613.6 177.5 615.0 178.9 614.6 180.0C614.2 181.1 611.8 181.5 610.0 182.0C608.2 182.5 606.8 182.4 605.0 182.5C603.2 182.6 602.4 182.2 600.0 182.5C597.6 182.8 594.8 183.7 592.0 184.0C589.2 184.3 587.6 184.2 585.0 184.0C582.4 183.8 580.3 183.3 578.0 183.0C575.7 182.7 573.8 183.8 572.5 182.5C571.2 181.2 571.0 178.3 571.0 176.0C571.0 173.7 571.6 171.5 572.5 170.0 M593.0 226.7C592.5 227.5 590.7 229.8 590.0 231.0C589.3 232.2 588.3 231.7 589.0 233.0C589.7 234.3 592.2 236.2 594.0 238.0C595.8 239.8 597.7 241.2 599.0 243.0C600.3 244.8 600.3 246.4 601.0 248.0C601.7 249.6 602.1 249.9 603.0 251.7C603.9 253.5 604.9 255.7 606.0 258.0C607.1 260.3 607.9 261.8 609.0 264.0C610.1 266.2 610.7 267.6 612.0 270.0C613.3 272.4 614.5 274.4 616.0 277.0C617.5 279.6 618.4 281.4 620.0 284.0C621.6 286.6 623.2 288.4 625.0 291.0C626.8 293.6 628.0 295.6 630.0 298.0C632.0 300.4 634.0 302.0 636.0 304.0C638.0 306.0 640.1 308.1 641.0 309.0 M593.0 226.7C593.4 227.7 594.5 230.1 595.0 232.0C595.5 233.9 595.5 236.8 596.0 237.0C596.5 237.2 597.1 234.5 597.5 233.0C597.9 231.5 597.2 228.3 598.0 229.0C598.8 229.7 600.3 233.6 602.0 237.0C603.7 240.4 605.9 244.4 607.5 247.5C609.1 250.6 609.4 251.7 611.0 254.0C612.6 256.3 614.4 257.4 616.0 260.0C617.6 262.6 618.5 265.2 620.0 268.0C621.5 270.8 622.5 272.2 624.0 275.0C625.5 277.8 626.4 280.2 628.0 283.0C629.6 285.8 631.0 287.4 633.0 290.0C635.0 292.6 636.8 294.6 639.0 297.0C641.2 299.4 643.9 301.9 645.0 303.0 M466.0 121.0C466.9 120.2 468.5 119.7 470.0 119.5C471.5 119.3 473.6 119.2 474.0 120.0C474.4 120.8 472.6 122.6 472.0 124.0C471.4 125.4 470.4 126.2 471.0 127.5C471.6 128.8 473.8 129.6 475.0 131.0C476.2 132.4 476.6 133.5 477.5 135.0C478.4 136.5 479.1 137.6 480.0 139.0C480.9 140.4 481.6 141.4 482.5 142.5C483.4 143.6 484.5 144.1 485.0 145.0C485.5 145.9 485.9 146.7 485.0 147.5C484.1 148.3 481.8 148.9 480.0 149.5C478.2 150.1 476.8 150.6 475.0 151.0C473.2 151.4 471.8 151.2 470.0 151.5C468.2 151.8 465.6 153.0 465.0 152.5C464.4 152.0 466.3 150.2 467.0 149.0C467.7 147.8 469.2 147.2 469.0 146.0C468.8 144.8 466.2 143.6 466.0 142.5C465.8 141.4 467.1 140.9 468.0 140.0C468.9 139.1 470.8 138.4 471.0 137.5C471.2 136.6 469.6 135.9 469.0 135.0C468.4 134.1 468.2 133.4 467.5 132.5C466.8 131.6 465.6 130.9 465.0 130.0C464.4 129.1 464.0 128.6 464.0 127.5C464.0 126.4 464.6 125.2 465.0 124.0C465.4 122.8 465.1 121.8 466.0 121.0 M454.0 134.0C455.3 133.3 456.7 133.3 458.0 133.5C459.3 133.7 460.2 133.6 461.0 135.0C461.8 136.4 462.7 139.3 462.5 141.0C462.3 142.7 461.2 143.1 460.0 144.0C458.8 144.9 457.5 145.6 456.0 146.0C454.5 146.4 453.1 146.4 452.0 146.0C450.9 145.6 450.2 145.1 450.0 144.0C449.8 142.9 450.8 141.2 451.0 140.0C451.2 138.8 450.4 138.6 451.0 137.5C451.6 136.4 452.7 134.7 454.0 134.0 M506.5 180.0C506.9 179.0 507.9 178.9 508.5 179.5C509.1 180.1 509.4 181.1 509.6 183.0C509.8 184.9 509.9 188.2 509.6 190.0C509.3 191.8 508.6 192.8 508.0 193.0C507.4 193.2 506.8 192.5 506.5 191.0C506.2 189.5 506.5 187.0 506.5 185.0C506.5 183.0 506.1 181.0 506.5 180.0 M520.0 198.5C520.7 198.3 522.5 199.0 524.0 199.0C525.5 199.0 527.5 197.9 528.0 198.5C528.5 199.1 527.9 201.4 527.0 202.0C526.1 202.6 524.3 202.1 523.0 201.7C521.7 201.3 520.5 200.6 520.0 200.0C519.5 199.4 519.3 198.7 520.0 198.5 M624.8 152.7C624.8 151.1 626.0 150.3 627.0 149.5C628.0 148.7 628.4 149.1 630.0 148.5C631.6 147.9 633.8 147.0 636.0 146.5C638.2 146.0 640.0 145.8 642.0 146.0C644.0 146.2 645.9 146.4 647.0 147.5C648.1 148.6 648.1 150.5 648.0 152.0C647.9 153.5 647.4 154.5 646.7 155.8C646.0 157.1 644.8 157.9 644.0 159.0C643.2 160.1 642.3 160.8 642.5 162.0C642.7 163.2 644.2 164.3 645.0 165.5C645.8 166.7 645.6 167.1 646.7 168.3C647.8 169.5 649.8 170.8 651.0 172.0C652.2 173.2 653.2 173.5 653.0 174.6C652.8 175.7 650.8 176.9 650.0 178.0C649.2 179.1 648.7 179.7 648.8 180.8C648.8 181.9 649.9 182.9 650.5 184.0C651.1 185.1 651.3 185.5 651.9 187.0C652.5 188.5 653.4 190.1 654.0 192.0C654.6 193.9 655.4 195.9 655.0 197.5C654.6 199.1 653.1 199.7 652.0 200.5C650.9 201.3 650.4 202.0 648.8 201.7C647.1 201.4 644.9 200.2 643.0 199.0C641.1 197.8 639.8 197.1 638.3 195.4C636.8 193.8 636.2 191.9 635.0 190.0C633.8 188.1 632.3 186.7 632.0 185.0C631.7 183.3 633.1 182.5 633.5 181.0C633.9 179.5 634.5 177.9 634.0 176.7C633.5 175.5 631.9 175.3 631.0 174.5C630.1 173.7 629.2 173.7 629.0 172.5C628.8 171.3 629.8 169.6 630.0 168.0C630.2 166.4 630.5 165.8 630.0 164.0C629.5 162.2 628.0 160.1 627.0 158.0C626.0 155.9 624.8 154.3 624.8 152.7 M639.4 222.5C640.2 223.5 642.3 226.1 644.0 228.0C645.7 229.9 647.1 231.3 648.8 233.0C650.4 234.7 651.5 235.5 653.0 237.0C654.5 238.5 655.7 239.6 657.0 241.0C658.3 242.4 658.8 243.3 660.0 244.5C661.2 245.7 661.8 247.2 663.3 247.5C664.8 247.8 667.1 246.3 668.0 246.0 M639.4 222.5C639.5 223.7 639.2 226.7 640.0 229.0C640.8 231.3 642.4 233.0 644.0 235.0C645.6 237.0 647.2 238.3 649.0 240.0C650.8 241.7 652.2 242.2 654.0 244.0C655.8 245.8 657.4 247.8 659.0 250.0C660.6 252.2 662.3 254.9 663.0 256.0 M650.0 400.0C650.9 400.2 651.5 402.2 652.0 404.0C652.5 405.8 652.9 407.4 652.5 410.0C652.1 412.6 650.9 415.2 650.0 418.0C649.1 420.8 648.6 421.9 647.5 425.0C646.4 428.1 645.4 431.3 644.0 435.0C642.6 438.7 641.5 442.2 640.0 445.0C638.5 447.8 637.4 448.6 636.0 450.0C634.6 451.4 634.0 452.3 632.5 452.5C631.0 452.7 629.2 451.9 628.0 451.0C626.8 450.1 626.3 449.3 626.0 447.5C625.7 445.7 626.2 443.3 626.5 441.0C626.8 438.7 626.9 437.6 627.5 435.0C628.1 432.4 629.1 429.8 630.0 427.0C630.9 424.2 631.2 422.6 632.5 420.0C633.8 417.4 635.2 415.3 637.0 413.0C638.8 410.7 640.7 409.3 642.5 407.5C644.3 405.7 645.6 404.4 647.0 403.0C648.4 401.6 649.1 399.8 650.0 400.0 M975.0 361.0C975.9 361.2 978.0 361.1 980.0 362.0C982.0 362.9 984.2 364.4 986.0 366.0C987.8 367.6 988.7 369.5 990.0 371.0C991.3 372.5 991.4 373.6 993.0 374.0C994.6 374.4 996.8 373.6 999.0 373.0C1001.2 372.4 1002.8 371.6 1005.0 371.0C1007.2 370.4 1009.5 370.7 1011.0 370.0C1012.5 369.3 1012.7 366.6 1013.0 367.0C1013.3 367.4 1013.4 370.7 1012.5 372.0C1011.6 373.3 1009.7 373.3 1008.0 374.0C1006.3 374.7 1005.0 375.3 1003.0 376.0C1001.0 376.7 998.3 377.3 997.0 378.0C995.7 378.7 995.3 378.5 996.0 380.0C996.7 381.5 999.2 384.0 1001.0 386.0C1002.8 388.0 1006.0 390.3 1006.0 391.0C1006.0 391.7 1002.8 390.6 1001.0 390.0C999.2 389.4 997.8 389.1 996.0 388.0C994.2 386.9 992.8 385.3 991.0 384.0C989.2 382.7 987.6 381.2 986.0 381.0C984.4 380.8 983.3 382.3 982.0 383.0C980.7 383.7 980.3 383.9 979.0 385.0C977.7 386.1 975.7 388.3 975.0 389.0 M975.0 398.0C975.5 398.9 976.9 401.0 978.0 403.0C979.1 405.0 980.1 406.4 981.0 409.0C981.9 411.6 982.4 413.9 983.0 417.0C983.6 420.1 983.6 423.1 984.5 426.0C985.4 428.9 986.4 430.6 988.0 433.0C989.6 435.4 991.4 436.8 993.0 439.0C994.6 441.2 995.8 443.2 997.0 445.0C998.2 446.8 998.7 447.4 999.5 449.0C1000.3 450.6 1001.0 452.2 1001.5 454.0C1002.0 455.8 1002.1 457.2 1002.0 459.0C1001.9 460.8 1001.5 462.2 1001.0 464.0C1000.5 465.8 1000.4 467.0 999.5 469.0C998.6 471.0 997.6 473.0 996.0 475.0C994.4 477.0 992.8 478.2 991.0 480.0C989.2 481.8 987.8 483.5 986.0 485.0C984.2 486.5 982.5 486.7 981.0 488.0C979.5 489.3 978.9 490.7 978.0 492.0C977.1 493.3 976.4 494.4 976.0 495.0 M975.6 88.7C976.4 88.9 978.3 89.3 980.0 90.0C981.7 90.7 983.4 91.4 985.0 92.5C986.6 93.6 988.9 95.0 988.7 96.0C988.5 97.0 986.1 97.5 984.0 98.0C981.9 98.5 978.7 98.8 977.5 99.0 M671.0 70.0C672.2 69.6 674.9 68.7 677.5 68.0C680.1 67.3 682.2 66.7 685.0 66.0C687.8 65.3 689.4 65.3 692.5 64.4C695.6 63.5 698.6 62.0 702.0 61.0C705.4 60.0 708.1 59.6 711.0 58.7C713.9 57.8 715.2 56.7 718.0 56.0C720.8 55.3 723.1 55.1 726.0 55.0C728.9 54.9 731.2 55.1 734.0 55.5C736.8 55.9 738.6 56.0 741.0 57.0C743.4 58.0 744.9 59.6 747.0 61.0C749.1 62.4 750.5 63.5 752.5 64.4C754.5 65.3 755.9 65.5 758.0 66.0C760.1 66.5 760.6 66.8 763.7 67.0C766.8 67.2 770.2 67.1 775.0 67.2C779.8 67.3 787.2 67.4 790.0 67.4"/>
<path stroke="#c2dae1" stroke-width="1" d="M562.7 224.6 L562.7 262.0 M562.7 262.0C562.7 262.0 580.0 262.0 580.0 262.0C580.0 262.0 594.0 262.0 594.0 262.0C594.0 262.0 601.0 258.0 601.0 258.0 M514.8 222.5C513.7 223.3 509.9 224.5 509.0 227.0C508.1 229.5 509.5 231.9 510.0 236.0C510.5 240.1 510.1 246.1 511.7 249.6C513.4 253.1 516.0 253.5 519.0 255.0C522.0 256.5 526.0 257.1 528.0 258.0C530.0 258.9 529.6 259.6 530.0 260.0 M505.4 201.7C505.3 203.2 505.4 207.0 505.0 210.0C504.6 213.0 502.6 215.6 503.0 218.0C503.4 220.4 505.7 221.0 507.0 223.0C508.3 225.0 509.4 227.9 510.0 229.0 M517.9 255.8C516.1 256.9 511.5 259.8 508.0 262.0C504.5 264.2 502.2 265.9 499.0 268.0C495.8 270.1 493.7 273.5 490.8 273.5C487.9 273.5 486.3 270.3 483.0 268.0C479.7 265.7 476.9 263.6 473.0 261.0C469.1 258.4 465.3 256.2 462.0 254.0C458.7 251.8 457.8 250.8 455.0 249.0C452.2 247.2 448.5 244.9 447.0 244.0 M489.0 205.0C488.4 206.3 487.6 209.8 486.0 212.0C484.4 214.2 482.6 215.1 480.0 217.0C477.4 218.9 474.8 220.7 472.0 222.5C469.2 224.3 467.3 225.5 465.0 227.0C462.7 228.5 462.0 229.3 459.6 230.8C457.2 232.3 454.3 233.5 452.0 235.0C449.7 236.5 447.9 237.3 447.0 239.0C446.1 240.7 447.0 243.1 447.0 244.0 M447.0 239.0C447.0 239.0 436.0 239.0 436.0 239.0C436.0 239.0 433.0 246.0 433.0 246.0 M447.0 244.0C447.0 244.0 447.0 262.0 447.0 262.0C447.0 262.0 438.0 262.0 438.0 262.0C438.0 262.0 436.0 270.0 436.0 270.0C436.0 270.0 426.0 270.0 426.0 270.0C426.0 270.0 420.0 272.0 420.0 272.0 M447.0 262.0C447.0 262.0 456.0 262.0 456.0 262.0C456.0 262.0 456.0 296.0 456.0 296.0C456.0 296.0 440.0 297.0 440.0 297.0C440.0 297.0 430.0 295.0 430.0 295.0C430.0 295.0 421.0 296.0 421.0 296.0 M490.8 273.5C490.7 275.6 491.2 281.6 490.0 285.0C488.8 288.4 486.9 290.0 484.0 292.0C481.1 294.0 476.6 293.8 474.0 296.0C471.4 298.2 472.2 301.8 470.0 304.0C467.8 306.2 464.6 307.6 462.0 308.0C459.4 308.4 457.1 306.4 456.0 306.0 M530.0 260.0C530.2 262.8 530.3 270.4 531.0 275.0C531.7 279.6 533.7 281.3 534.0 285.0C534.3 288.7 533.6 292.2 532.5 295.0C531.4 297.8 528.8 299.1 528.0 300.0 M484.0 292.0C484.7 293.8 485.4 300.5 488.0 302.0C490.6 303.5 494.0 299.8 498.0 300.0C502.0 300.2 506.0 302.8 510.0 303.0C514.0 303.2 516.7 301.6 520.0 301.0C523.3 300.4 526.0 299.1 528.0 300.0C530.0 300.9 530.5 304.9 531.0 306.0 M562.7 262.0C562.2 263.5 561.2 265.8 560.0 270.0C558.8 274.2 556.9 280.0 556.0 285.0C555.1 290.0 555.9 293.5 555.0 297.5C554.1 301.5 552.6 304.2 551.0 307.0C549.4 309.8 546.9 311.9 546.0 313.0 M530.0 260.0C531.8 259.3 536.0 255.6 540.0 256.0C544.0 256.4 547.8 259.8 552.0 262.0C556.2 264.2 560.7 266.9 562.7 268.0 M531.0 306.0C530.1 307.8 528.2 313.1 526.0 316.0C523.8 318.9 521.6 320.0 519.0 322.0C516.4 324.0 514.1 324.9 512.0 327.0C509.9 329.1 508.3 332.3 507.5 333.5 M531.0 306.0C531.9 308.2 535.6 314.0 536.0 318.0C536.4 322.0 532.3 325.2 533.0 328.0C533.7 330.8 537.2 333.4 540.0 333.0C542.8 332.6 545.1 328.0 548.0 326.0C550.9 324.0 552.7 322.6 556.0 322.0C559.3 321.4 562.5 321.9 566.0 323.0C569.5 324.1 571.5 326.2 575.0 328.0C578.5 329.8 583.2 332.1 585.0 333.0 M536.0 318.0C537.8 317.1 542.3 315.0 546.0 313.0C549.7 311.0 553.1 309.2 556.0 307.0C558.9 304.8 560.9 302.1 562.0 301.0 M562.0 301.0C563.8 301.9 568.0 305.4 572.0 306.0C576.0 306.6 579.6 304.0 584.0 304.0C588.4 304.0 592.3 304.5 596.0 306.0C599.7 307.5 603.3 309.1 604.0 312.0C604.7 314.9 602.0 318.7 600.0 322.0C598.0 325.3 595.8 328.0 593.0 330.0C590.2 332.0 586.5 332.4 585.0 333.0 M604.0 312.0C604.9 309.8 607.4 304.4 609.0 300.0C610.6 295.6 611.0 290.9 613.0 288.0C615.0 285.1 618.7 284.7 620.0 284.0 M593.0 330.0C594.8 331.1 599.1 334.5 603.0 336.0C606.9 337.5 610.1 338.4 614.0 338.0C617.9 337.6 622.2 334.7 624.0 334.0 M508.8 342.5C510.4 342.4 515.0 342.5 518.0 342.0C521.0 341.5 522.8 338.1 525.0 340.0C527.2 341.9 530.2 348.5 530.0 352.5C529.8 356.5 525.8 359.2 524.0 362.0C522.2 364.8 520.9 365.3 520.0 367.5C519.1 369.7 519.2 372.8 519.0 374.0 M509.0 340.0C511.0 339.6 515.8 339.1 520.0 338.0C524.2 336.9 528.3 334.9 532.0 334.0C535.7 333.1 538.5 333.2 540.0 333.0 M540.0 333.0C539.6 335.2 539.3 340.6 538.0 345.0C536.7 349.4 534.8 353.1 533.0 357.0C531.2 360.9 530.0 363.2 528.0 366.0C526.0 368.8 523.1 370.9 522.0 372.0 M519.0 374.0C520.6 374.0 524.6 373.8 528.0 373.8C531.4 373.7 534.4 372.6 537.5 373.8C540.6 374.9 541.8 378.9 545.0 380.0C548.2 381.1 553.2 377.2 555.0 380.0C556.8 382.8 554.1 392.2 555.0 395.0C555.9 397.8 559.1 395.0 560.0 395.0 M517.5 420.0C520.7 420.2 528.6 420.8 535.0 421.0C541.4 421.2 547.9 421.0 552.5 421.2C557.1 421.5 558.6 422.3 560.0 422.5 M560.0 395.0C559.6 397.4 558.0 403.0 558.0 408.0C558.0 413.0 559.6 419.8 560.0 422.5 M550.0 422.0C549.8 423.5 549.9 428.5 549.0 430.0C548.1 431.5 545.7 427.2 545.0 430.0C544.3 432.8 544.8 440.0 545.0 445.0C545.2 450.0 545.8 455.2 546.0 457.5 M533.8 463.8C534.9 463.4 537.9 462.2 540.0 462.0C542.1 461.8 543.9 463.3 545.0 462.5C546.1 461.7 545.8 458.4 546.0 457.5 M546.0 457.5C546.9 457.6 549.4 458.5 551.0 458.0C552.6 457.5 553.0 456.3 555.0 455.0C557.0 453.7 559.2 452.8 562.0 451.0C564.8 449.2 567.2 447.0 570.0 445.0C572.8 443.0 574.6 440.7 577.5 440.0C580.4 439.3 583.9 439.9 586.0 441.0C588.1 442.1 588.5 445.1 589.0 446.0 M568.8 468.0C568.9 466.9 569.9 465.6 571.0 465.0C572.1 464.4 574.0 464.1 575.0 464.5C576.0 464.9 576.7 466.0 576.5 467.0C576.3 468.0 575.2 469.3 574.0 470.0C572.8 470.7 571.0 471.4 570.0 471.0C569.0 470.6 568.6 469.1 568.8 468.0 M560.0 395.0C561.3 395.7 564.2 397.6 567.0 399.0C569.8 400.4 572.1 402.5 575.0 402.5C577.9 402.5 579.8 400.4 583.0 399.0C586.2 397.6 590.5 394.4 592.5 395.0C594.5 395.6 593.5 400.2 594.0 402.0C594.5 403.8 596.1 403.5 595.0 405.0C593.9 406.5 590.3 408.2 588.0 410.0C585.7 411.8 584.9 413.5 582.5 415.0C580.1 416.5 577.8 417.1 575.0 418.0C572.2 418.9 570.2 419.2 567.5 420.0C564.8 420.8 561.4 422.0 560.0 422.5 M582.5 415.0C583.5 415.9 586.2 418.2 588.0 420.0C589.8 421.8 592.1 422.6 592.5 425.0C592.9 427.4 590.9 430.7 590.0 433.0C589.1 435.3 589.3 437.3 587.5 437.5C585.7 437.7 582.8 435.4 580.0 434.0C577.2 432.6 574.7 431.6 572.5 430.0C570.3 428.4 568.9 426.8 568.0 425.0C567.1 423.2 567.6 420.9 567.5 420.0 M572.5 430.0C572.0 431.5 570.5 435.2 570.0 438.0C569.5 440.8 570.0 443.7 570.0 445.0 M585.0 333.0C584.5 335.2 582.9 340.5 582.0 345.0C581.1 349.5 579.9 352.9 580.0 357.5C580.1 362.1 582.9 366.2 582.5 370.0C582.1 373.8 579.4 375.2 578.0 378.0C576.6 380.8 574.6 381.9 575.0 385.0C575.4 388.1 578.5 392.4 580.0 395.0C581.5 397.6 582.5 398.3 583.0 399.0 M595.0 395.0C597.0 395.2 601.9 396.0 606.0 396.0C610.1 396.0 615.4 395.2 617.5 395.0 M582.0 345.0C583.8 345.2 588.7 345.1 592.0 346.0C595.3 346.9 597.1 348.4 600.0 350.0C602.9 351.6 606.5 354.1 608.0 355.0 M595.0 395.0C595.4 396.8 596.3 400.9 597.0 405.0C597.7 409.1 598.9 413.8 598.8 417.5C598.6 421.2 596.5 423.6 596.0 425.0 M452.5 177.5C453.0 179.1 454.9 182.8 455.0 186.0C455.1 189.2 453.2 191.9 453.0 195.0C452.8 198.1 453.8 201.5 454.0 203.0 M467.5 177.5C469.1 177.8 472.6 178.9 476.0 179.0C479.4 179.1 484.2 178.2 486.0 178.0 M492.5 147.5C493.3 148.3 495.3 150.6 497.0 152.0C498.7 153.4 500.8 154.4 501.7 155.0 M501.7 139.7C501.6 141.2 501.0 145.2 501.0 148.0C501.0 150.8 501.1 152.6 501.7 155.0C502.2 157.4 503.6 160.1 504.0 161.2 M523.6 136.5C523.7 137.0 524.4 137.2 524.4 139.4C524.4 141.6 524.3 145.6 523.6 148.8C522.9 151.9 521.1 155.2 520.5 156.6 M504.0 161.2C505.1 161.2 508.0 161.6 510.0 161.0C512.0 160.4 513.2 158.4 515.0 158.0C516.8 157.6 518.7 159.3 519.7 159.0C520.7 158.7 520.4 157.0 520.5 156.6 M523.6 148.8C524.8 149.2 527.6 150.1 530.0 151.0C532.4 151.9 534.5 152.9 536.9 153.4C539.3 153.9 540.7 153.6 543.0 153.6C545.3 153.6 547.4 154.3 549.4 153.4C551.4 152.5 553.2 149.6 554.0 148.8 M541.6 133.4C542.6 133.6 545.0 133.7 547.0 134.5C549.0 135.3 551.4 136.4 552.5 138.0C553.6 139.6 552.7 141.0 553.0 143.0C553.3 145.0 553.8 147.7 554.0 148.8 M504.0 161.2C503.6 162.1 501.0 165.2 501.7 166.0C502.4 166.8 505.7 165.9 508.0 165.5C510.3 165.1 511.9 164.3 514.0 164.0C516.1 163.7 517.5 163.8 519.7 163.6C521.9 163.4 523.7 163.3 526.0 163.0C528.3 162.7 530.9 162.2 532.0 162.0 M519.7 159.0C520.9 158.6 523.7 157.0 526.0 157.0C528.3 157.0 530.9 158.6 532.0 159.0 M519.7 163.6 L520.5 167.5 M532.0 159.0C532.9 157.4 537.0 157.9 540.0 158.0C543.0 158.1 547.3 158.0 548.6 159.7C549.9 161.4 548.6 166.0 547.0 167.5C545.4 169.0 542.2 168.1 540.0 168.0C537.8 167.9 536.5 168.3 535.0 166.7C533.5 165.0 531.1 160.6 532.0 159.0 M548.6 159.7C550.0 159.8 553.0 160.6 556.0 160.5C559.0 160.4 562.6 158.4 565.0 159.0C567.4 159.6 567.7 162.3 569.0 164.0C570.3 165.7 571.5 167.5 572.0 168.3 M547.0 167.5C548.0 168.9 550.1 173.7 552.5 175.3C554.9 176.9 557.2 176.0 560.0 176.0C562.8 176.0 566.5 175.4 568.0 175.3 M522.5 168.5C523.9 168.4 527.5 168.6 530.0 168.0C532.5 167.4 534.9 165.6 536.0 165.0 M542.0 168.0C542.7 169.5 544.5 173.4 546.0 176.0C547.5 178.6 549.6 179.8 550.0 182.0C550.4 184.2 547.6 186.2 548.0 188.0C548.4 189.8 551.3 191.3 552.0 192.0 M556.0 172.0C555.6 173.5 553.8 177.6 554.0 180.0C554.2 182.4 555.2 183.5 557.0 185.0C558.8 186.5 562.5 187.4 563.8 188.0 M554.0 147.2C554.9 146.8 557.0 145.6 559.0 145.0C561.0 144.4 562.8 143.8 565.0 144.0C567.2 144.2 568.7 145.4 571.0 146.0C573.3 146.6 575.2 147.8 577.5 147.2C579.8 146.6 581.8 142.7 583.8 142.5C585.7 142.3 586.6 144.6 588.0 146.0C589.4 147.4 590.0 149.2 591.6 150.3C593.2 151.4 595.0 151.4 597.0 152.0C599.0 152.6 601.3 152.0 602.5 153.4C603.7 154.8 604.4 157.8 603.3 159.7C602.2 161.6 598.5 162.6 596.2 163.6C594.0 164.6 592.7 164.4 591.0 165.0C589.3 165.6 586.5 165.7 586.9 166.7C587.3 167.7 593.3 169.6 593.0 170.6C592.7 171.6 587.6 172.8 585.3 172.2C583.0 171.6 582.5 168.5 580.6 167.5C578.7 166.5 576.6 166.6 575.0 166.7C573.4 166.8 572.5 168.0 572.0 168.3 M565.0 129.5C566.4 130.2 570.7 131.2 572.8 133.4C574.9 135.6 577.0 139.1 576.7 141.2C576.4 143.4 573.8 144.3 571.2 145.0C568.7 145.7 565.9 145.0 563.0 145.0C560.1 145.0 557.5 146.3 555.6 145.0C553.7 143.7 552.5 140.1 552.5 138.0C552.5 135.9 553.6 135.4 555.6 133.4C557.6 131.4 562.0 128.3 563.4 127.2 M546.2 122.5C547.9 122.3 551.9 122.0 555.0 121.5C558.1 121.0 561.9 120.3 563.4 120.0 M543.9 130.3C546.0 130.0 552.0 129.3 555.6 128.8C559.2 128.2 562.0 127.5 563.4 127.2 M565.0 113.0C564.6 113.9 563.1 116.1 562.7 117.8C562.3 119.5 562.9 120.8 563.0 122.5C563.1 124.2 563.0 125.9 563.4 127.2C563.8 128.5 564.7 129.1 565.0 129.5 M561.0 80.3C561.2 81.2 561.6 83.3 562.0 85.0C562.4 86.7 562.7 87.9 563.4 89.7C564.1 91.5 565.2 93.0 566.0 95.0C566.8 97.0 567.3 98.4 568.0 100.6C568.7 102.8 569.8 105.1 569.7 106.9C569.6 108.7 568.4 109.4 567.5 110.5C566.6 111.6 565.5 112.5 565.0 113.0 M512.7 117.0C513.1 115.9 514.0 113.2 515.0 111.0C516.0 108.8 517.0 107.0 518.0 105.0C519.0 103.0 519.6 101.7 520.5 100.0C521.4 98.3 521.8 97.4 522.8 96.0C523.8 94.6 524.9 93.7 526.0 92.5C527.1 91.3 527.7 90.8 529.0 89.7C530.3 88.6 531.6 87.7 533.0 86.5C534.4 85.3 534.8 84.2 536.9 83.4C539.0 82.6 542.0 82.6 544.7 81.9C547.4 81.2 550.4 79.9 551.7 79.5 M544.7 81.9C545.0 82.8 545.9 85.3 546.5 87.0C547.1 88.7 547.7 89.7 547.8 91.2C547.9 92.8 547.1 94.5 547.0 95.2 M551.7 79.5C553.0 79.4 556.6 79.3 558.8 78.8C560.9 78.2 562.5 76.8 563.4 76.4 M599.0 205.0C600.8 204.4 605.5 202.8 608.8 201.9C612.0 201.0 614.8 202.5 617.0 200.0C619.2 197.5 620.1 190.5 620.6 188.0C621.1 185.5 621.0 187.7 619.7 186.2C618.4 184.8 614.6 181.1 613.4 180.0 M608.0 203.0C608.7 204.5 612.4 208.2 612.0 211.0C611.6 213.8 608.2 216.0 606.0 218.0C603.8 220.0 601.8 221.3 600.0 222.0C598.2 222.7 596.7 222.0 596.0 222.0 M620.6 188.0C620.8 190.1 620.7 196.3 621.7 199.6C622.7 202.9 624.7 203.7 626.0 206.0C627.3 208.3 627.5 210.0 629.0 212.0C630.5 214.0 632.1 215.1 634.0 217.0C635.9 218.9 638.4 221.5 639.4 222.5 M606.0 218.0C607.8 218.7 612.3 220.9 616.0 222.0C619.7 223.1 622.7 223.6 626.0 224.0C629.3 224.4 631.5 224.3 634.0 224.0C636.5 223.7 638.4 222.8 639.4 222.5 M600.0 222.0C600.7 223.1 604.4 226.7 604.0 228.0C603.6 229.3 599.1 228.8 598.0 229.0 M613.4 180.0C614.6 180.3 617.7 180.9 620.0 181.5C622.3 182.1 624.1 182.7 626.0 183.0C627.9 183.3 629.8 183.0 630.6 183.0 M640.0 145.6C640.7 144.6 642.2 141.6 644.0 140.0C645.8 138.4 647.6 137.0 650.0 137.0C652.4 137.0 654.4 140.0 657.0 140.0C659.6 140.0 661.4 137.2 664.0 137.0C666.6 136.8 669.7 138.6 671.0 139.0 M646.7 155.8C647.7 156.6 649.9 158.7 652.0 160.0C654.1 161.3 656.0 161.5 658.0 163.0C660.0 164.5 662.1 167.1 663.0 168.0 M628.0 283.0C629.8 282.1 634.3 279.6 638.0 278.0C641.7 276.4 644.7 275.8 648.0 274.0C651.3 272.2 654.5 269.1 656.0 268.0 M656.0 268.0 L662.0 256.0 M655.0 197.5C655.7 195.0 658.5 188.8 659.0 184.0C659.5 179.2 657.3 174.4 658.0 171.5C658.7 168.6 660.9 168.0 663.0 168.0C665.1 168.0 668.6 168.8 669.6 171.5C670.6 174.2 669.5 179.6 668.5 183.0C667.5 186.4 663.7 187.6 664.0 190.0C664.3 192.4 668.9 194.9 670.0 196.0"/>
</g>

<!-- left panel -->
<rect x="57" y="101" width="444" height="433" fill="#dfebf7" fill-opacity="0.6"/>


<!-- right panel -->
<rect x="673" y="71" width="303" height="486" rx="24" ry="24" fill="#dfe6ea" opacity="0.45" filter="url(#sh)"/>
<rect x="670.6" y="68.4" width="304" height="485.8" rx="24" ry="24" fill="#deedf6" stroke="url(#pbord)" stroke-width="1.2"/>

<!-- CAGR circle -->
<circle cx="669.7" cy="325" r="69.3" fill="#ffffff"/>
<circle cx="669.7" cy="325" r="65.1" fill="#1b4256"/>
<text x="637" y="305.1" font-size="22.5" font-weight="bold" fill="#ffffff" textLength="64.4" lengthAdjust="spacingAndGlyphs">CAGR</text>
<text x="647.6" y="332.1" font-size="22.9" fill="#ffffff">8</text>
<text x="671.9" y="332.1" font-size="22.9" fill="#ffffff" textLength="18.4" lengthAdjust="spacingAndGlyphs">%</text>

<!-- title -->
<text class="ttl" y="41" xml:space="preserve"><tspan x="36.6" textLength="72.0" lengthAdjust="spacingAndGlyphs">Navy</tspan> <tspan x="119.6" textLength="100.8" lengthAdjust="spacingAndGlyphs">Marine</tspan> <tspan x="229.8" textLength="119.0" lengthAdjust="spacingAndGlyphs">Emission</tspan> <tspan x="356.6" textLength="103.2" lengthAdjust="spacingAndGlyphs">Control</tspan> <tspan x="472.8" textLength="116.0" lengthAdjust="spacingAndGlyphs">Systems</tspan> <tspan x="597.8" textLength="99.1" lengthAdjust="spacingAndGlyphs">Market</tspan> <tspan x="723.4" textLength="66.8" lengthAdjust="spacingAndGlyphs">2024</tspan></text>
<text class="ttl" x="26.8" y="76.3" textLength="103.6" lengthAdjust="spacingAndGlyphs">to 2032</text>

<!-- chart -->
<text class="reg" x="156" y="145.4" font-size="14.5" textLength="246.5" lengthAdjust="spacingAndGlyphs">Global Market Size, 2024 and 2032</text>
<text class="bold" x="228" y="167" font-size="14.7" textLength="101.5" lengthAdjust="spacingAndGlyphs">(USD Million)</text>

<g stroke="#dbe3e9" stroke-width="1">
  <line x1="96.2" x2="461" y1="251.5" y2="251.5"/>
  <line x1="96.2" x2="461" y1="281" y2="281"/>
  <line x1="96.2" x2="461" y1="310.5" y2="310.5"/>
  <line x1="96.2" x2="461" y1="340" y2="340"/>
  <line x1="96.2" x2="461" y1="369.5" y2="369.5"/>
  <line x1="96.2" x2="461" y1="399" y2="399"/>
  <line x1="96.2" x2="461" y1="428.2" y2="428.2"/>
</g>
<rect x="83.75" y="239.75" width="388.75" height="220.75" fill="none" stroke="#555b60" stroke-width="1.1"/>
<rect x="142.4" y="358.2" width="89.1" height="69.6" fill="#32a0a0"/>
<rect x="324.7" y="274.4" width="90" height="153.4" fill="#0880b0"/>
<text class="reg" x="172.8" y="350.8" font-size="14.5" textLength="36.2" lengthAdjust="spacingAndGlyphs">2,150</text>
<text class="reg" x="343.5" y="269.8" font-size="14.5" textLength="43.8" lengthAdjust="spacingAndGlyphs">2313.7</text>
<text class="reg" x="173.3" y="448.9" font-size="12.2" textLength="27.1" lengthAdjust="spacingAndGlyphs">2024</text>
<text class="reg" x="356" y="448.9" font-size="12.2" textLength="27.6" lengthAdjust="spacingAndGlyphs">2032</text>

<!-- segments -->
<g id="seg">
<text class="reg" x="747.6" y="177.5" font-size="14.5" textLength="124.5" lengthAdjust="spacingAndGlyphs">Market Segments</text>
<text class="bold" x="748" y="211.8" font-size="12.8" textLength="89.9" lengthAdjust="spacingAndGlyphs" xml:space="preserve">By Technology</text>
<circle cx="750.2" cy="222.9" r="1.65" fill="#222"/><text class="reg" x="774.8" y="227.1" font-size="13" textLength="60.5" lengthAdjust="spacingAndGlyphs">Scrubbers</text>
<circle cx="750.2" cy="238.2" r="1.65" fill="#222"/><text class="reg" x="774.8" y="242.4" font-size="13" textLength="183.6" lengthAdjust="spacingAndGlyphs">Selective Catalytic Reduction</text>
<text class="reg" x="763" y="257.7" font-size="13" textLength="32" lengthAdjust="spacingAndGlyphs">(SCR)</text>
<circle cx="750.2" cy="268.8" r="1.65" fill="#222"/><text class="reg" x="774.8" y="273.0" font-size="13" textLength="90.4" lengthAdjust="spacingAndGlyphs">Hybrid Systems</text>
<text class="bold" x="748" y="288.3" font-size="12.8" textLength="45.7" lengthAdjust="spacingAndGlyphs" xml:space="preserve">By  Fuel</text>
<circle cx="750.2" cy="299.4" r="1.65" fill="#222"/><text class="reg" x="774.8" y="303.6" font-size="13" textLength="46.6" lengthAdjust="spacingAndGlyphs">Powder</text>
<circle cx="750.2" cy="314.7" r="1.65" fill="#222"/><text class="reg" x="774.8" y="318.9" font-size="13" textLength="35.4" lengthAdjust="spacingAndGlyphs">Liquid</text>
<text class="bold" x="748" y="334.2" font-size="12.8" textLength="92.6" lengthAdjust="spacingAndGlyphs" xml:space="preserve">By  Application</text>
<circle cx="750.2" cy="345.3" r="1.65" fill="#222"/><text class="reg" x="774.8" y="349.5" font-size="13" textLength="65.1" lengthAdjust="spacingAndGlyphs">New Builds</text>
<circle cx="750.2" cy="360.6" r="1.65" fill="#222"/><text class="reg" x="774.8" y="364.8" font-size="13" textLength="94.8" lengthAdjust="spacingAndGlyphs">Retrofit Projects</text>
<text class="bold" x="748" y="380.1" font-size="12.8" textLength="60.6" lengthAdjust="spacingAndGlyphs" xml:space="preserve">By Region</text>
<circle cx="750.2" cy="391.2" r="1.65" fill="#222"/><text class="reg" x="774.8" y="395.4" font-size="13" textLength="70.7" lengthAdjust="spacingAndGlyphs">Asia Pacific</text>
<circle cx="750.2" cy="406.5" r="1.65" fill="#222"/><text class="reg" x="774.8" y="410.7" font-size="13" textLength="43.3" lengthAdjust="spacingAndGlyphs">Europe</text>
<circle cx="750.2" cy="421.8" r="1.65" fill="#222"/><text class="reg" x="774.8" y="426.0" font-size="13" textLength="89.8" lengthAdjust="spacingAndGlyphs">North America</text>
<circle cx="750.2" cy="437.1" r="1.65" fill="#222"/><text class="reg" x="774.8" y="441.3" font-size="13" textLength="85.5" lengthAdjust="spacingAndGlyphs">Latin America</text>
<circle cx="750.2" cy="452.4" r="1.65" fill="#222"/><text class="reg" x="774.8" y="456.6" font-size="13" textLength="124.1" lengthAdjust="spacingAndGlyphs">Middle East &amp; Africa</text>
</g>

<!-- logo -->
<g id="logo">
<path d="M834.9 41 L834.2 50.4 L842 48.6 Z" fill="#4b6173" stroke="#4b6173" stroke-width="1" stroke-linejoin="round"/>
<circle cx="845.7" cy="39.3" r="10.4" fill="#ffffff" stroke="#4b6173" stroke-width="3"/>
<rect x="838.9" y="39.4" width="3.3" height="8.6" fill="#2fb3c4"/>
<rect x="843.9" y="35.6" width="3.4" height="12.6" fill="#23a3b6"/>
<rect x="849.3" y="29.8" width="3.2" height="18.6" fill="#4b6173"/>
<text x="862.4" y="40.4" font-size="14.9" fill="#45b2bb" textLength="65.6" lengthAdjust="spacingAndGlyphs">Credence</text>
<text x="933.4" y="40.4" font-size="14.9" fill="#62717e" textLength="63.8" lengthAdjust="spacingAndGlyphs">Research</text>
<text x="862.6" y="48.6" font-size="4.6" font-weight="bold" fill="#6b7883" textLength="134.5" lengthAdjust="spacing">Actionable Insights Delivered</text>
</g>
</svg>
</body>
</html>
